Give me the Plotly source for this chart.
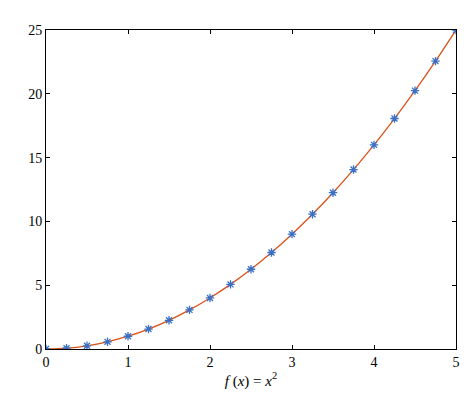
import plotly.graph_objects as go

x_vals = [0, 0.25, 0.5, 0.75, 1, 1.25, 1.5, 1.75, 2, 2.25, 2.5, 2.75, 3, 3.25, 3.5, 3.75, 4, 4.25, 4.5, 4.75, 5]
y_vals = [0, 0.0625, 0.25, 0.5625, 1, 1.5625, 2.25, 3.0625, 4, 5.0625, 6.25, 7.5625, 9, 10.5625, 12.25, 14.0625, 16, 18.0625, 20.25, 22.5625, 25]
x_ticks = [0, 1, 2, 3, 4, 5]
y_ticks = [0, 5, 10, 15, 20, 25]

fig = go.Figure()
fig.add_trace(go.Scatter(x=x_vals, y=y_vals, mode="lines", line=dict(color="#D95319", width=1.3, shape="spline"), hoverinfo="skip"))
fig.add_trace(go.Scatter(x=x_vals, y=y_vals, mode="markers",
                         marker=dict(symbol="asterisk-open", size=7, color="#3A6FC4", line=dict(color="#3A6FC4", width=1.3))))

axis_common = dict(showgrid=False, zeroline=False, showline=True, linecolor="black", linewidth=1,
                   mirror="ticks", ticks="inside", ticklen=4, tickcolor="black",
                   tickfont=dict(family="Liberation Serif", size=14, color="black"))
fig.update_layout(
    width=474, height=413, showlegend=False,
    paper_bgcolor="white", plot_bgcolor="white",
    margin=dict(l=38, r=26, t=22, b=72),
    xaxis=dict(range=[0, 5], tickvals=x_ticks, **axis_common,
               title=dict(text="<i>f</i> (<i>x</i>) = <i>x</i><sup>2</sup>", font=dict(family="Liberation Serif", size=15, color="black"), standoff=6)),
    yaxis=dict(range=[0, 25], tickvals=y_ticks, **axis_common),
)
fig.write_html("out.html")
